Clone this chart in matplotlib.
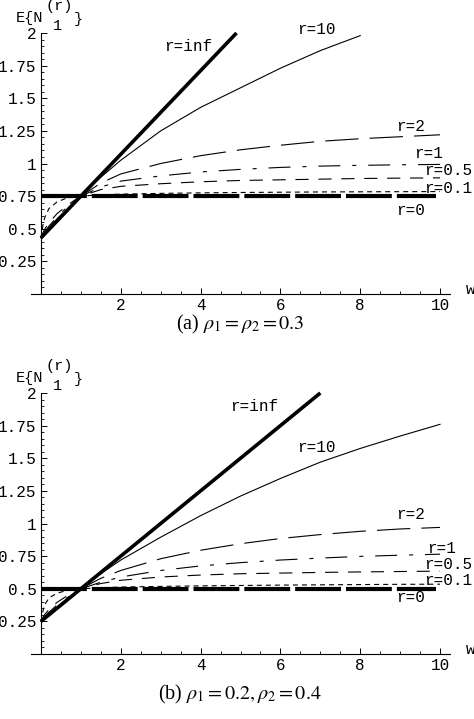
import numpy as np
import matplotlib.pyplot as plt
from matplotlib.ticker import MultipleLocator, FixedLocator

plt.rcParams['lines.scale_dashes'] = False
plt.rcParams['mathtext.fontset'] = 'stix'
plt.rcParams['font.serif'] = ['Liberation Serif']

# grille commune des w (lecture sur la figure)
w = [0, 0.05, 0.1, 0.2, 0.4, 0.6, 0.8, 1, 1.5, 2, 3, 4, 5, 6, 7, 8, 9, 10]

# (a) rho1 = rho2 = 0.3
a_r01 = [0.43, 0.53, 0.59, 0.655, 0.705, 0.73, 0.743, 0.75, 0.76, 0.765, 0.771, 0.775, 0.778, 0.78, 0.782, 0.783, 0.784, 0.785]
a_r05 = [0.43, 0.47, 0.5, 0.545, 0.615, 0.665, 0.71, 0.75, 0.80, 0.825, 0.845, 0.86, 0.87, 0.875, 0.88, 0.885, 0.888, 0.89]
a_r1 = [0.43, 0.455, 0.48, 0.52, 0.59, 0.65, 0.70, 0.75, 0.82, 0.865, 0.905, 0.935, 0.955, 0.97, 0.98, 0.986, 0.99, 0.993]
a_r2 = [0.43, 0.45, 0.47, 0.505, 0.575, 0.635, 0.695, 0.75, 0.85, 0.92, 1.0, 1.06, 1.105, 1.14, 1.17, 1.19, 1.205, 1.22]
a_r10 = [0.43, 0.445, 0.46, 0.495, 0.56, 0.625, 0.69, 0.75, 0.895, 1.025, 1.25, 1.43, 1.58, 1.73, 1.865, 1.98]
a_inf_w = [0, 4.9]
a_inf = [0.43, 2.0]
a_r0_w = [0, 9.9]
a_r0 = [0.75, 0.75]

# (b) rho1 = 0.2, rho2 = 0.4
b_r01 = [0.25, 0.33, 0.38, 0.43, 0.465, 0.483, 0.494, 0.5, 0.508, 0.513, 0.518, 0.522, 0.525, 0.528, 0.53, 0.532, 0.534, 0.535]
b_r05 = [0.25, 0.28, 0.305, 0.34, 0.395, 0.435, 0.47, 0.5, 0.54, 0.565, 0.59, 0.605, 0.615, 0.62, 0.625, 0.629, 0.632, 0.635]
b_r1 = [0.25, 0.27, 0.29, 0.32, 0.375, 0.42, 0.46, 0.5, 0.55, 0.59, 0.64, 0.675, 0.7, 0.72, 0.735, 0.748, 0.757, 0.765]
b_r2 = [0.25, 0.265, 0.28, 0.305, 0.36, 0.41, 0.455, 0.5, 0.58, 0.64, 0.73, 0.795, 0.845, 0.885, 0.915, 0.94, 0.958, 0.97]
b_r10 = [0.25, 0.26, 0.275, 0.3, 0.35, 0.4, 0.45, 0.5, 0.615, 0.72, 0.895, 1.06, 1.21, 1.345, 1.47, 1.575, 1.67, 1.76]
b_inf_w = [0, 7]
b_inf = [0.25, 2.0]
b_r0_w = [0, 9.9]
b_r0 = [0.5, 0.5]

yticks = [0.25, 0.5, 0.75, 1, 1.25, 1.5, 1.75, 2]
ytick_labels = ["0.25", "0.5", "0.75", "1", "1.25", "1.5", "1.75", "2"]
xticks = [2, 4, 6, 8, 10]

mono = 'Liberation Mono'
fs = 11.5
W, H = 474, 719


def panel(ax, curves, inf_w, inf, r0_w, r0, labels):
    r01, r05, r1, r2, r10 = curves
    ax.plot(w, r01, color='k', lw=0.8, dashes=(3.6, 2.9), clip_on=False)
    ax.plot(w, r05, color='k', lw=0.8, dashes=(9.5, 7), clip_on=False)
    ax.plot(w, r1, color='k', lw=0.8, dashes=(15.8, 8.6, 2.9, 8.6), clip_on=False)
    ax.plot(w, r2, color='k', lw=0.8, dashes=(24, 8), clip_on=False)
    ax.plot(w[:len(r10)], r10, color='k', lw=0.8, clip_on=False)
    ax.plot(inf_w, inf, color='k', lw=2.6, solid_capstyle='butt', clip_on=False)
    ax.plot(r0_w, r0, color='k', lw=3.0, dashes=(33, 3.6), dash_capstyle='butt', clip_on=False)

    for (x, y, s, ha) in labels:
        ax.text(x, y, s, ha=ha, va='center', fontsize=fs, family=mono)

    ax.set_xlim(-0.25, 10.25)
    ax.set_ylim(0, 2)
    ax.spines['top'].set_visible(False)
    ax.spines['right'].set_visible(False)
    ax.spines['left'].set_position(('data', 0))
    ax.spines['left'].set_bounds(0, 2)
    ax.spines['left'].set_linewidth(0.8)
    ax.spines['bottom'].set_linewidth(0.8)
    ax.yaxis.set_major_locator(FixedLocator(yticks))
    ax.set_yticklabels(ytick_labels)
    ax.yaxis.set_minor_locator(MultipleLocator(0.05))
    ax.xaxis.set_major_locator(FixedLocator(xticks))
    ax.xaxis.set_minor_locator(FixedLocator(np.arange(0.5, 10.01, 0.5)))
    ax.tick_params(which='major', direction='in', length=4, width=0.7, labelsize=fs, pad=3)
    ax.tick_params(which='minor', direction='in', length=2, width=0.6)
    ax.tick_params(axis='y', pad=3)
    for t in ax.get_xticklabels() + ax.get_yticklabels():
        t.set_family(mono)


fig = plt.figure(figsize=(W / 100, H / 100), dpi=100)

ax1 = fig.add_axes([31 / W, 1 - 294 / H, 419 / W, 261 / H])
panel(ax1, [a_r01, a_r05, a_r1, a_r2, a_r10], a_inf_w, a_inf, a_r0_w, a_r0,
      [(3.68, 1.90, "r=inf", 'center'), (6.89, 2.03, "r=10", 'center'),
       (9.27, 1.28, "r=2", 'center'), (9.35, 1.08, "r=1", 'left'),
       (9.6, 0.945, "r=0.5", 'left'), (9.6, 0.81, "r=0.1", 'left'),
       (9.27, 0.64, "r=0", 'center')])

ax2 = fig.add_axes([31 / W, 1 - 654 / H, 419 / W, 261 / H])
panel(ax2, [b_r01, b_r05, b_r1, b_r2, b_r10], b_inf_w, b_inf, b_r0_w, b_r0,
      [(5.35, 1.90, "r=inf", 'center'), (6.89, 1.58, "r=10", 'center'),
       (9.27, 1.066, "r=2", 'center'), (9.68, 0.81, "r=1", 'left'),
       (9.6, 0.687, "r=0.5", 'left'), (9.6, 0.56, "r=0.1", 'left'),
       (9.27, 0.43, "r=0", 'center')])

# etiquettes des axes
for dy in [0, 360]:
    fig.text(16 / W, 1 - (18 + dy) / H, "E{N", fontsize=11, family=mono, va='center', ha='left')
    fig.text(59 / W, 1 - (6 + dy) / H, "(r)", fontsize=11, family=mono, va='center', ha='center')
    fig.text(57 / W, 1 - (26 + dy) / H, "1", fontsize=11, family=mono, va='center', ha='center')
    fig.text(78 / W, 1 - (19 + dy) / H, "}", fontsize=11, family=mono, va='center', ha='center')
    fig.text(466 / W, 1 - (289 + dy) / H, "w", fontsize=fs, family=mono, va='center', ha='left')

fig.text(240 / W, 1 - 324 / H, r"(a) $\rho_1 = \rho_2 = 0.3$", fontsize=14.5, family='serif',
         ha='center', va='center')
fig.text(240 / W, 1 - 694 / H, r"(b) $\rho_1 = 0.2, \rho_2 = 0.4$", fontsize=14.5, family='serif',
         ha='center', va='center')

fig.savefig('out.png', dpi=100)
